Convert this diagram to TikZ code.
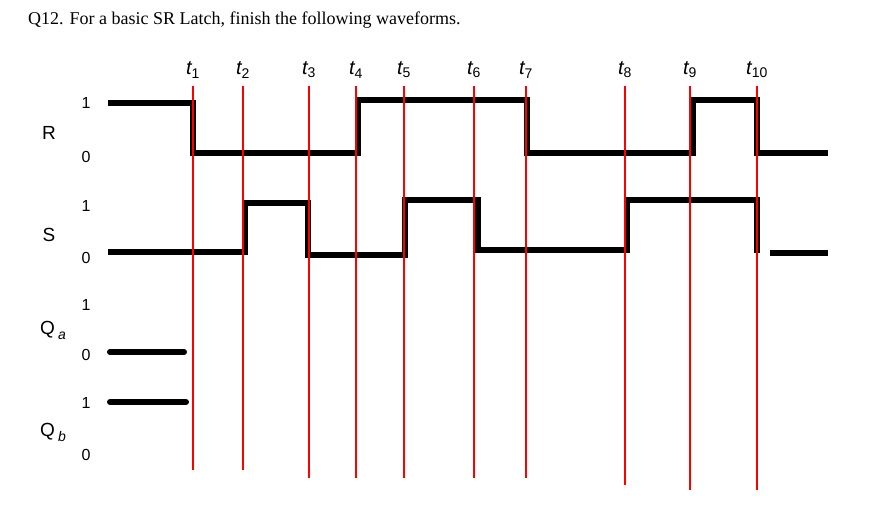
\documentclass[tikz,border=0pt]{standalone}
\usepackage{fontspec}
\setmainfont{Liberation Serif}
\newfontfamily\arial{Liberation Sans}
\begin{document}
\begin{tikzpicture}[x=1pt,y=-1pt,
  wave/.style={line width=6pt,line join=miter},
  tmark/.style={red,line width=1.3pt},
  lab/.style={font=\arial\fontsize{16}{16}\selectfont,inner sep=0pt},
  big/.style={font=\arial\fontsize{19}{19}\selectfont,inner sep=0pt},
  tl/.style={font=\arial\itshape\fontsize{20}{20}\selectfont,inner sep=0pt}]
\useasboundingbox (0,0) rectangle (880,507);
\node[anchor=west,inner sep=0pt,font=\fontsize{18}{18}\selectfont] (title) at (28,20) {Q12. For a basic SR Latch, finish the following waveforms.};
\draw[wave] (108,103) -- (193,103) -- (193,153) -- (358,153) -- (358,100) -- (527,100) -- (527,153) -- (693,153) -- (693,100) -- (757,100) -- (757,153) -- (828,153);
\draw[wave] (108,252) -- (245,252) -- (245,203) -- (308,203) -- (308,255) -- (405,255) -- (405,200) -- (478,200) -- (478,250) -- (627,250) -- (627,200) -- (757,200) -- (757,253);
\draw[wave] (770,253) -- (828,253);
\draw[wave,line cap=round] (110,352) -- (184,352);
\draw[wave,line cap=round] (110,402) -- (186,402);
\foreach \x/\n/\b in {193/1/470,243/2/470,309/3/478,356/4/478,404/5/478,474/6/478,526/7/478,625/8/485,690/9/490,757/10/490}{
  \coordinate (top\n) at (\x,86);
  \coordinate (bot\n) at (\x,\b);
  \draw[tmark] (top\n) -- (bot\n);
  \node[tl] (t\n) at (\x,70) {t\textsubscript{\upshape\n}};
}
\foreach \y/\t/\nm in {103/1/r1,157/0/r0,206/1/s1,258/0/s0,305/1/a1,355/0/a0,403/1/b1,455/0/b0}
  \node[lab] (\nm) at (86,\y) {\t};
\node[big] (R) at (49,133) {R};
\node[big] (S) at (49,235) {S};
\node[big] (Qa) at (53,330) {Q\,\raisebox{-5pt}{\itshape\fontsize{14}{14}\selectfont a}};
\node[big] (Qb) at (53,432) {Q\,\raisebox{-5pt}{\itshape\fontsize{14}{14}\selectfont b}};
\end{tikzpicture}
\end{document}
